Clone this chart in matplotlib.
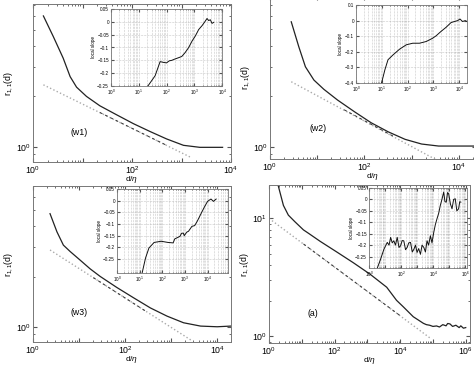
import matplotlib
matplotlib.use("Agg")
import matplotlib.pyplot as plt
from matplotlib.ticker import NullFormatter, FixedLocator
import numpy as np

plt.rcParams['font.family'] = ['Liberation Sans', 'DejaVu Sans']
plt.rcParams['mathtext.fontset'] = 'custom'
plt.rcParams['mathtext.rm'] = 'Liberation Sans'
plt.rcParams['mathtext.it'] = 'Liberation Sans:italic'

# ---- data (log10 d, log10 f) ----
w1_logd = [0.21, 0.41, 0.61, 0.75, 0.88, 1.08, 1.35, 1.69, 2.03, 2.36, 2.70, 3.04, 3.37, 3.71, 3.83]
w1_logf = [0.78, 0.657, 0.528, 0.418, 0.355, 0.30, 0.244, 0.19, 0.137, 0.091, 0.046, 0.008, -0.004, -0.004, -0.004]
w1_ref = ([0.21, 3.21], [0.369, -0.067])
w1_fit = ([1.35, 2.70], [0.204, 0.008])
w1_slope_x = [1.33, 1.59, 1.77, 1.89, 2.0, 2.1, 2.19, 2.3, 2.43, 2.55, 2.67, 2.8, 2.92, 3.04, 3.16, 3.28, 3.38, 3.46, 3.52, 3.58, 3.64, 3.7]
w1_slope_y = [-0.25, -0.21, -0.155, -0.158, -0.16, -0.152, -0.15, -0.145, -0.14, -0.135, -0.12, -0.1, -0.075, -0.055, -0.03, -0.015, 0.0, 0.013, 0.005, 0.008, -0.006, -0.002]

w2_logd = [0.45, 0.61, 0.75, 0.93, 1.14, 1.43, 1.79, 2.14, 2.50, 2.86, 3.21, 3.57, 3.93, 4.36]
w2_logf = [0.744, 0.595, 0.476, 0.397, 0.342, 0.278, 0.208, 0.143, 0.089, 0.044, 0.016, 0.004, 0.004, 0.004]
w2_ref = ([0.45, 3.50], [0.387, -0.075])
w2_fit = ([1.57, 2.60], [0.220, 0.064])
w2_slope_x = [0.99, 1.12, 1.24, 1.44, 1.69, 1.95, 2.2, 2.46, 2.72, 2.97, 3.1, 3.29, 3.49, 3.68, 3.81, 3.94, 4.03, 4.13, 4.23, 4.28]
w2_slope_y = [-0.4, -0.315, -0.251, -0.219, -0.183, -0.155, -0.145, -0.145, -0.134, -0.113, -0.098, -0.07, -0.043, -0.013, -0.006, 0.0, 0.01, -0.006, 0.0, -0.004]

w3_logd = [0.37, 0.52, 0.66, 0.81, 1.02, 1.24, 1.46, 1.82, 2.19, 2.55, 2.91, 3.27, 3.64, 4.0, 4.29]
w3_logf = [0.679, 0.570, 0.490, 0.451, 0.401, 0.348, 0.302, 0.236, 0.173, 0.113, 0.064, 0.024, 0.004, 0.0, 0.004]
w3_ref = ([0.37, 3.46], [0.461, -0.085])
w3_fit = ([1.31, 2.48], [0.295, 0.088])
w3_slope_x = [1.11, 1.26, 1.41, 1.64, 1.95, 2.25, 2.48, 2.55, 2.78, 2.85, 2.93, 2.97, 3.0, 3.08, 3.16, 3.31, 3.43, 3.54, 3.69, 3.84, 4.0, 4.15, 4.26, 4.38]
w3_slope_y = [-0.31, -0.246, -0.203, -0.179, -0.174, -0.179, -0.181, -0.164, -0.153, -0.14, -0.139, -0.15, -0.146, -0.135, -0.131, -0.11, -0.107, -0.089, -0.06, -0.031, -0.003, 0.007, -0.003, 0.007]

a_logd = [0.26, 0.44, 0.59, 0.79, 1.05, 1.20, 1.56, 2.06, 2.57, 3.08, 3.59, 3.89, 4.10, 4.40, 4.55, 4.71, 4.80, 4.90, 5.00, 5.11, 5.20, 5.30, 5.40, 5.45, 5.52, 5.60, 5.70, 5.80, 5.85, 5.93, 6.0]
a_logf = [1.30, 1.11, 1.028, 0.972, 0.903, 0.875, 0.806, 0.717, 0.625, 0.528, 0.417, 0.306, 0.25, 0.167, 0.14, 0.111, 0.10, 0.095, 0.085, 0.089, 0.08, 0.10, 0.09, 0.11, 0.106, 0.085, 0.095, 0.075, 0.09, 0.07, 0.075]
a_ref = ([0.0, 4.91], [1.0, -0.013])
a_fit = ([1.05, 4.0], [0.784, 0.176])
a_slope_x = [0.52, 0.72, 0.93, 1.14, 1.25, 1.35, 1.45, 1.55, 1.65, 1.76, 1.87, 1.97, 2.07, 2.17, 2.28, 2.38, 2.48, 2.59, 2.70, 2.80, 2.90, 3.0, 3.1, 3.21, 3.31, 3.42, 3.52, 3.62, 3.72, 3.83, 3.93, 4.04, 4.14, 4.24, 4.35, 4.45, 4.55, 4.66, 4.74, 4.82, 4.90, 4.97, 5.08, 5.18, 5.28, 5.38, 5.48, 5.59, 5.66, 5.73]
a_slope_y = [-0.3, -0.262, -0.218, -0.188, -0.2, -0.166, -0.19, -0.181, -0.2, -0.166, -0.21, -0.203, -0.18, -0.181, -0.22, -0.21, -0.19, -0.188, -0.23, -0.218, -0.2, -0.232, -0.215, -0.24, -0.2, -0.21, -0.23, -0.181, -0.2, -0.159, -0.19, -0.144, -0.11, -0.085, -0.06, -0.026, 0.0, 0.032, -0.01, -0.012, 0.03, 0.025, -0.02, -0.041, 0.0, 0.003, -0.05, -0.041, -0.01, -0.012]


def style_main(ax, xlim, ylim):
    ax.set_xscale('log')
    ax.set_yscale('log')
    ax.set_xlim(*xlim)
    ax.set_ylim(*ylim)
    xt = [10.0 ** k for k in range(0, 7) if xlim[0] <= 10.0 ** k <= xlim[1]]
    ax.xaxis.set_major_locator(FixedLocator(xt))
    ax.set_xticklabels([r'$10^{%d}$' % k if k % 2 == 0 else '' for k in range(len(xt))])
    yt = [10.0 ** k for k in range(-1, 3) if ylim[0] <= 10.0 ** k <= ylim[1]]
    ax.yaxis.set_major_locator(FixedLocator(yt))
    ax.set_yticklabels([r'$10^{%d}$' % int(round(np.log10(v))) for v in yt])
    ax.yaxis.set_minor_formatter(NullFormatter())
    ax.xaxis.set_minor_formatter(NullFormatter())
    ax.tick_params(which='both', direction='in', top=True, right=True,
                   labelsize=6.3, color='#555555', pad=1.5)
    ax.tick_params(which='major', length=3)
    ax.tick_params(which='minor', length=1.5)
    for s in ax.spines.values():
        s.set_color('#777777')
        s.set_linewidth(0.7)
    ax.set_xlabel(r'd/$\eta$', fontsize=6.0, labelpad=-1.0)
    ax.set_ylabel(r'r$_{1,1}$(d)', fontsize=6.3, labelpad=1)


def style_inset(ax, xlim, ylim, yticks, xlab_step):
    ax.set_xscale('log')
    ax.set_xlim(*xlim)
    ax.set_ylim(*ylim)
    xt = [10.0 ** k for k in range(0, 7) if xlim[0] <= 10.0 ** k <= xlim[1]]
    ax.xaxis.set_major_locator(FixedLocator(xt))
    ax.set_xticklabels([r'$10^{%d}$' % k if k % xlab_step == 0 else '' for k in range(len(xt))])
    ax.xaxis.set_minor_formatter(NullFormatter())
    ax.set_yticks(yticks)
    ax.set_yticklabels([('%g' % v).replace('-', '\u2212') for v in yticks])
    ax.tick_params(which='both', direction='in', top=True, right=True,
                   labelsize=3.3, color='#555555', pad=1.5)
    ax.tick_params(which='major', length=2)
    ax.tick_params(which='minor', length=1)
    ax.grid(which='both', axis='x', ls=':', lw=0.4, color='#999999')
    ax.grid(which='major', axis='y', ls=':', lw=0.4, color='#999999')
    for s in ax.spines.values():
        s.set_color('#777777')
        s.set_linewidth(0.6)
    ax.set_ylabel('local slope', fontsize=3.3, labelpad=1)


def draw(ax, logd, logf, ref, fit):
    ax.plot(10.0 ** np.array(ref[0]), 10.0 ** np.array(ref[1]), ':', color='#aaaaaa', lw=1.0)
    ax.plot(10.0 ** np.array(fit[0]), 10.0 ** np.array(fit[1]), '--', color='#333333', lw=0.7, dashes=(3, 3))
    ax.plot(10.0 ** np.array(logd), 10.0 ** np.array(logf), '-', color='#222222', lw=0.9)


W, H = 474.0, 366.0


def pos(left, right, top, bottom):
    return [left / W, 1 - bottom / H, (right - left) / W, (bottom - top) / H]


fig = plt.figure(figsize=(4.74, 3.66), dpi=100)

panels = [
    (pos(33, 231, 4, 162), pos(111, 222, 9, 86), (1, 1e4), (0.81, 7.1), w1_logd, w1_logf, w1_ref, w1_fit,
     w1_slope_x, w1_slope_y, (1, 1e4), (-0.25, 0.05), [-0.25, -0.2, -0.15, -0.1, -0.05, 0, 0.05], 1, '(w1)'),
    (pos(270, 476, -4, 159), pos(356, 467, 5, 83), (1, 2.3e4), (0.845, 7.9), w2_logd, w2_logf, w2_ref, w2_fit,
     w2_slope_x, w2_slope_y, (1, 2e4), (-0.4, 0.1), [-0.4, -0.3, -0.2, -0.1, 0, 0.1], 1, '(w2)'),
    (pos(33, 231, 186, 342), pos(117, 228, 189, 273), (1, 2e4), (0.81, 7.0), w3_logd, w3_logf, w3_ref, w3_fit,
     w3_slope_x, w3_slope_y, (1, 8e4), (-0.31, 0.05), [-0.25, -0.2, -0.15, -0.1, -0.05, 0, 0.05], 1, '(w3)'),
    (pos(269, 470, 185, 343), pos(369, 467, 188, 268), (1, 1.35e6), (0.88, 19.2), a_logd, a_logf, a_ref, a_fit,
     a_slope_x, a_slope_y, (1, 1.3e6), (-0.3, 0.05), [-0.25, -0.2, -0.15, -0.1, -0.05, 0, 0.05], 2, '(a)'),
]

for mpos, ipos, xlim, ylim, ld, lf, ref, fit, sx, sy, ixlim, iylim, iyt, step, tag in panels:
    ax = fig.add_axes(mpos)
    draw(ax, ld, lf, ref, fit)
    style_main(ax, xlim, ylim)
    ax.text(0.19, 0.17, tag, transform=ax.transAxes, fontsize=6.3)
    ins = fig.add_axes(ipos)
    ins.plot(10.0 ** np.array(sx), sy, '-', color='#111111', lw=0.7)
    style_inset(ins, ixlim, iylim, iyt, step)

fig.savefig('out.png', dpi=100)
